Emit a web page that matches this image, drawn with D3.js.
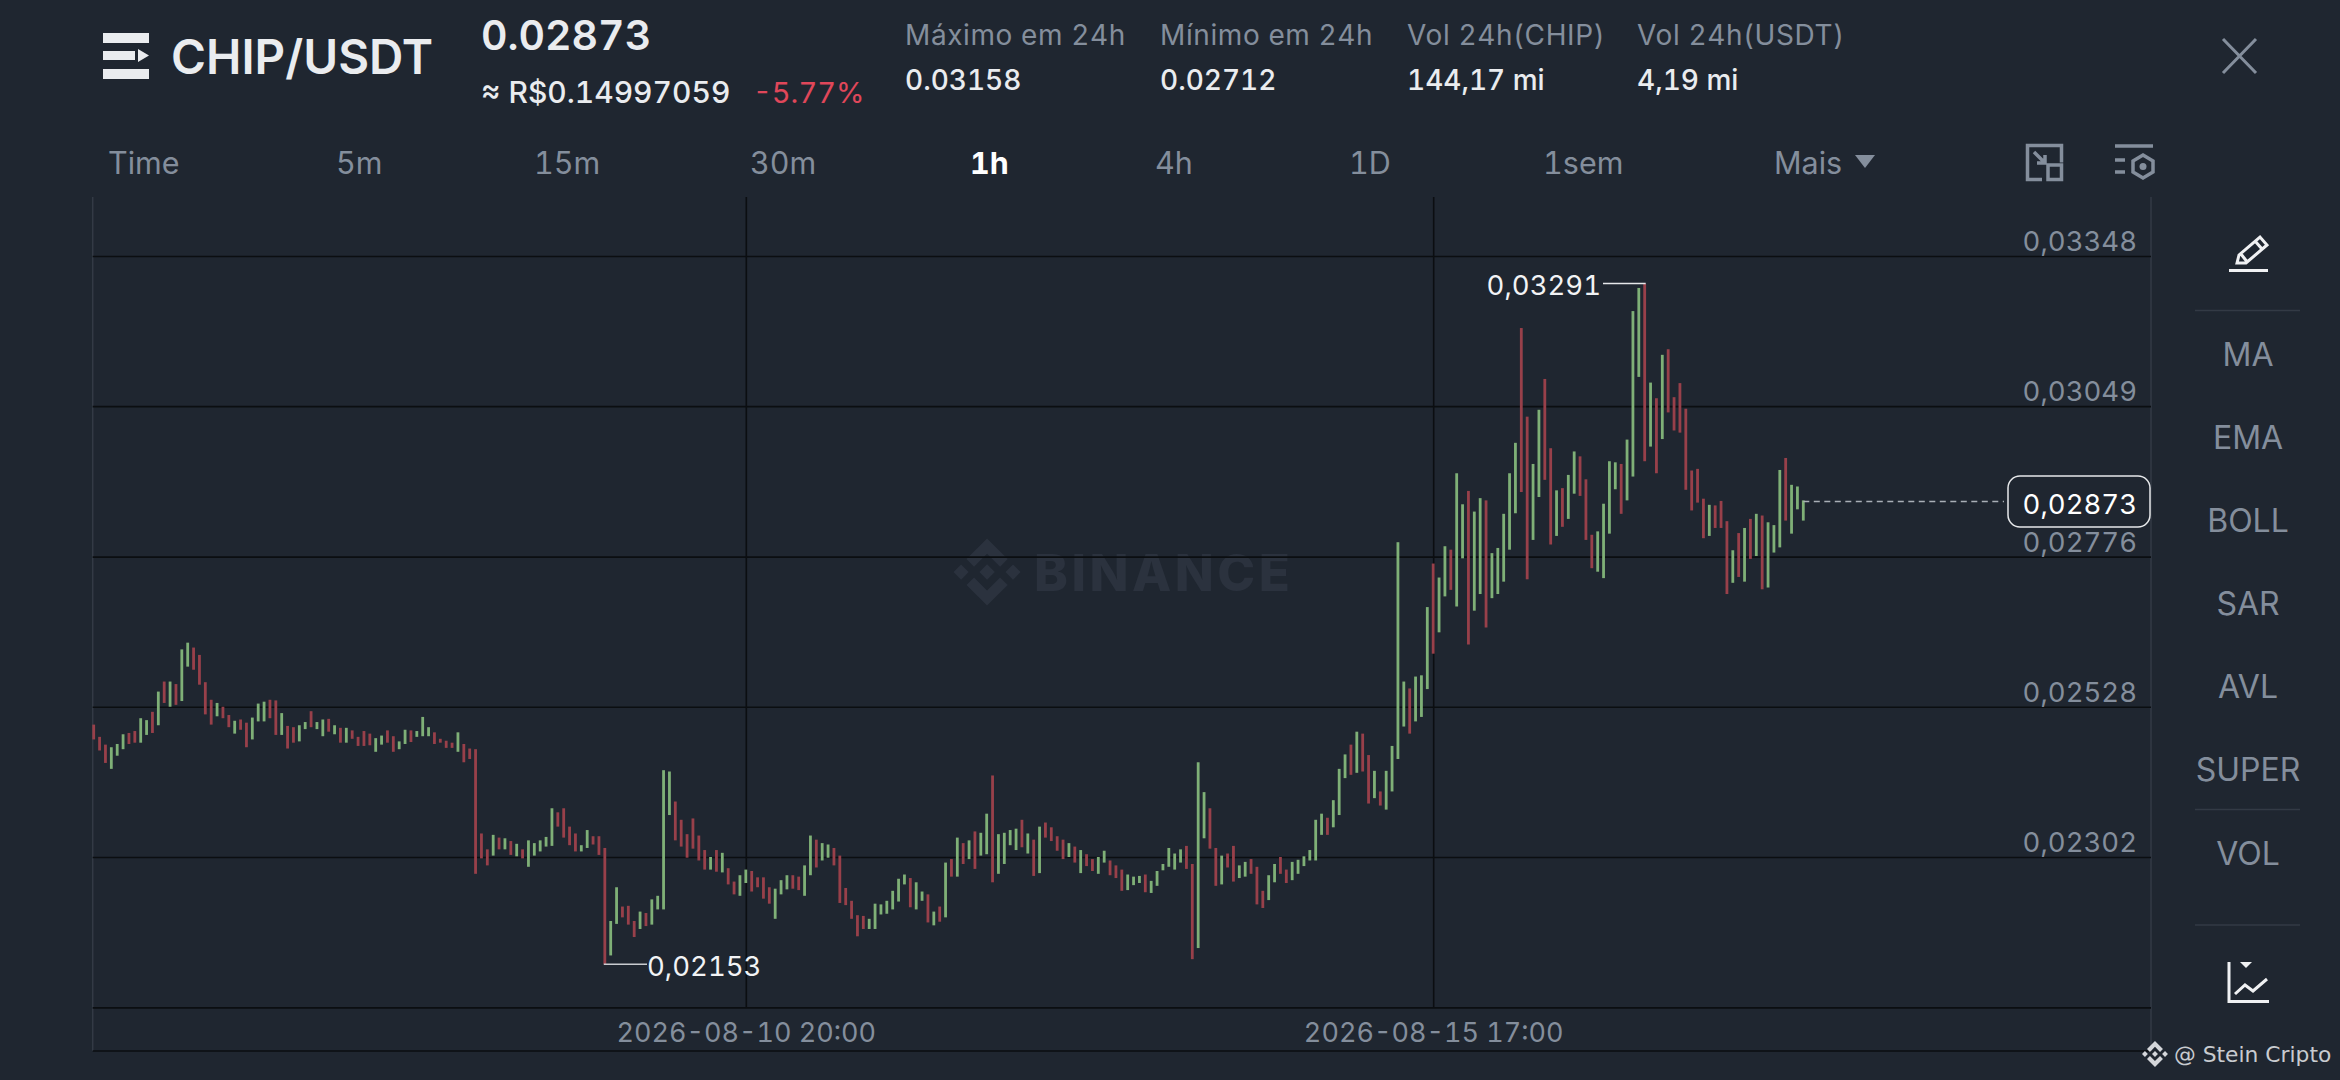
<!DOCTYPE html>
<html><head><meta charset="utf-8">
<script src="https://cdn.jsdelivr.net/npm/d3@7/dist/d3.min.js"></script>
<style>
html,body{margin:0;padding:0;background:#1f2630;overflow:hidden}
svg{display:block}
text{font-family:Inter,Lato,sans-serif;font-variant-numeric:tabular-nums}
</style></head><body>
<svg id="c" width="2340" height="1080"></svg>
<script>
const highs=[
0.02500,0.02481,0.02469,0.02465,0.02470,0.02485,0.02487,0.02490,0.02510,0.02507,
0.02520,0.02552,0.02568,0.02568,0.02564,0.02620,0.02631,0.02623,0.02611,0.02567,
0.02539,0.02534,0.02528,0.02515,0.02506,0.02508,0.02503,0.02511,0.02533,0.02536,
0.02539,0.02538,0.02518,0.02498,0.02496,0.02499,0.02504,0.02521,0.02504,0.02508,
0.02509,0.02499,0.02495,0.02495,0.02491,0.02481,0.02490,0.02486,0.02479,0.02483,
0.02491,0.02482,0.02474,0.02492,0.02491,0.02490,0.02512,0.02496,0.02488,0.02478,
0.02475,0.02472,0.02488,0.02470,0.02463,0.02462,0.02336,0.02313,0.02334,0.02330,
0.02329,0.02325,0.02321,0.02313,0.02326,0.02322,0.02326,0.02331,0.02373,0.02367,
0.02373,0.02346,0.02336,0.02319,0.02341,0.02332,0.02332,0.02315,0.02212,0.02259,
0.02232,0.02233,0.02212,0.02225,0.02223,0.02242,0.02247,0.02430,0.02428,0.02383,
0.02356,0.02335,0.02358,0.02333,0.02312,0.02302,0.02312,0.02308,0.02286,0.02267,
0.02276,0.02284,0.02282,0.02273,0.02273,0.02259,0.02257,0.02269,0.02276,0.02276,
0.02274,0.02290,0.02333,0.02327,0.02322,0.02320,0.02315,0.02304,0.02258,0.02240,
0.02220,0.02219,0.02215,0.02236,0.02235,0.02240,0.02254,0.02271,0.02277,0.02272,
0.02266,0.02253,0.02249,0.02225,0.02232,0.02294,0.02299,0.02330,0.02322,0.02326,
0.02339,0.02337,0.02365,0.02422,0.02335,0.02337,0.02341,0.02343,0.02356,0.02336,
0.02327,0.02346,0.02352,0.02345,0.02332,0.02327,0.02322,0.02317,0.02312,0.02306,
0.02299,0.02302,0.02311,0.02297,0.02290,0.02284,0.02277,0.02274,0.02275,0.02277,
0.02268,0.02282,0.02292,0.02315,0.02307,0.02313,0.02318,0.02292,0.02442,0.02397,
0.02373,0.02315,0.02304,0.02307,0.02318,0.02290,0.02295,0.02299,0.02288,0.02254,
0.02276,0.02292,0.02302,0.02284,0.02295,0.02298,0.02303,0.02312,0.02356,0.02365,
0.02359,0.02385,0.02432,0.02454,0.02469,0.02489,0.02486,0.02453,0.02429,0.02398,
0.02429,0.02467,0.02801,0.02568,0.02557,0.02576,0.02578,0.02690,0.02764,0.02740,
0.02794,0.02788,0.02924,0.02868,0.02892,0.02855,0.02879,0.02875,0.02782,0.02791,
0.02851,0.02924,0.02980,0.03201,0.03029,0.02941,0.03042,0.03101,0.02970,0.02893,
0.02897,0.02921,0.02964,0.02955,0.02913,0.02814,0.02820,0.02869,0.02946,0.02944,
0.02941,0.02986,0.03235,0.03282,0.03291,0.03094,0.03064,0.03148,0.03159,0.03066,
0.03093,0.03044,0.02929,0.02932,0.02878,0.02867,0.02866,0.02874,0.02838,0.02787,
0.02817,0.02826,0.02842,0.02851,0.02848,0.02836,0.02831,0.02930,0.02952,0.02903,
0.02900,0.02875];
const lows=[
0.02477,0.02460,0.02441,0.02432,0.02452,0.02462,0.02470,0.02472,0.02472,0.02484,
0.02487,0.02499,0.02534,0.02528,0.02531,0.02537,0.02592,0.02587,0.02563,0.02516,
0.02500,0.02513,0.02510,0.02496,0.02486,0.02492,0.02465,0.02477,0.02505,0.02505,
0.02510,0.02484,0.02484,0.02463,0.02472,0.02474,0.02493,0.02496,0.02493,0.02482,
0.02489,0.02485,0.02472,0.02472,0.02478,0.02467,0.02467,0.02468,0.02458,0.02469,
0.02472,0.02458,0.02462,0.02470,0.02473,0.02481,0.02482,0.02482,0.02470,0.02472,
0.02464,0.02464,0.02458,0.02442,0.02447,0.02278,0.02300,0.02290,0.02304,0.02313,
0.02313,0.02305,0.02303,0.02300,0.02288,0.02304,0.02310,0.02317,0.02318,0.02346,
0.02330,0.02319,0.02310,0.02310,0.02315,0.02320,0.02305,0.02153,0.02165,0.02208,
0.02217,0.02207,0.02190,0.02201,0.02205,0.02207,0.02228,0.02228,0.02363,0.02326,
0.02317,0.02301,0.02314,0.02297,0.02284,0.02284,0.02281,0.02280,0.02263,0.02249,
0.02247,0.02265,0.02253,0.02259,0.02243,0.02236,0.02215,0.02249,0.02256,0.02257,
0.02255,0.02247,0.02276,0.02287,0.02297,0.02301,0.02290,0.02237,0.02234,0.02215,
0.02191,0.02201,0.02201,0.02201,0.02221,0.02222,0.02228,0.02239,0.02263,0.02231,
0.02228,0.02240,0.02210,0.02206,0.02211,0.02217,0.02274,0.02274,0.02292,0.02299,
0.02285,0.02304,0.02306,0.02266,0.02278,0.02292,0.02319,0.02312,0.02316,0.02307,
0.02275,0.02279,0.02330,0.02325,0.02311,0.02299,0.02302,0.02294,0.02279,0.02289,
0.02282,0.02278,0.02294,0.02276,0.02272,0.02254,0.02255,0.02262,0.02265,0.02252,
0.02251,0.02261,0.02283,0.02288,0.02284,0.02294,0.02285,0.02160,0.02175,0.02329,
0.02314,0.02261,0.02263,0.02287,0.02267,0.02272,0.02274,0.02278,0.02235,0.02230,
0.02241,0.02266,0.02278,0.02265,0.02269,0.02278,0.02289,0.02297,0.02297,0.02334,
0.02334,0.02345,0.02363,0.02418,0.02423,0.02426,0.02428,0.02380,0.02388,0.02377,
0.02371,0.02398,0.02447,0.02497,0.02486,0.02505,0.02512,0.02556,0.02613,0.02648,
0.02708,0.02719,0.02691,0.02773,0.02628,0.02684,0.02712,0.02656,0.02705,0.02712,
0.02733,0.02788,0.02852,0.02890,0.02737,0.02805,0.02881,0.02912,0.02797,0.02812,
0.02828,0.02842,0.02887,0.02883,0.02805,0.02756,0.02750,0.02739,0.02816,0.02895,
0.02851,0.02875,0.02918,0.03105,0.02946,0.02973,0.02924,0.02987,0.03037,0.03003,
0.02999,0.02894,0.02857,0.02871,0.02808,0.02812,0.02826,0.02826,0.02712,0.02731,
0.02741,0.02733,0.02772,0.02777,0.02720,0.02723,0.02783,0.02792,0.02839,0.02816,
0.02859,0.02839];
const directions=(
"RRRGGGRRGG"+"RGRGRGGRRR"+"RGRRGRRGGG"+"RRGRRGGRGG"+"RGRGRRRRGG"+"RRGGRGGGRR"+
"RRGRRRRRGR"+"GRGRGGGGGR"+"RRRGGRRRGG"+"RRRGRGGGGR"+"RRRRRGRGRR"+"GGRRRRGGGR"+
"RGGRGGRRRR"+"RRGGGGGGGR"+"GGRGRGRGRG"+"RGGRGGGGRG"+"RGRRRRGRGR"+"RGGRRRGGGR"+
"GGGGGGRRGG"+"RRGRRGGRRR"+"GGRRGGGGGG"+"RGGGRGRRGR"+"GGGGRGGGRG"+"GRGGRGGRGG"+
"GGGRRGGRRG"+"RGGRRRGGGG"+"RGGGRGRGRR"+"RRRRRGRRRG"+"RGRGRGGGRG"+"GG").split("");
const priceTicks=[0.03348,0.03049,0.02776,0.02528,0.02302];
const floorPrice=0.02096;
const lastPrice=0.02873, highPrice=0.03291, lowPrice=0.02153;
const timeTicks=["2026-08-10T20:00Z","2026-08-15T17:00Z"].map(d=>new Date(d));
const firstTime=new Date("2026-08-06T05:00Z");
const hour=3600000;
const times=highs.map((_,i)=>new Date(+firstTime+i*hour));
const periods=["Time","5m","15m","30m","1h","4h","1D","1sem","Mais"];
const periodX=[108,336,534,750,970,1155,1349,1543,1774];
const statNames=["Máximo em 24h","Mínimo em 24h","Vol 24h(CHIP)","Vol 24h(USDT)"];
const statValues=["0.03158","0.02712","144,17 mi","4,19 mi"];
const statX=[905,1160,1407,1637];
const indicators=["MA","EMA","BOLL","SAR","AVL","SUPER","VOL"];
const indicatorY=[354,437,519.5,603,686,769,853];

const BG="#1f2630",UP="#7fb077",DOWN="#98404a",MUTED="#848e9c",LIGHT="#eaecef",GRID="#0b0e11",EDGE="#333a45";
const svg=d3.select("#c");
svg.append("rect").attr("width",2340).attr("height",1080).attr("fill",BG);
const fmt=d=>d.toFixed(5).replace(".",",");
const L=92.7,R=2151,TOP=197,BOT=1051;
const x=d3.scaleUtc().domain([times[0],times[times.length-1]]).range([93.7,1803.3]);
const y=d3.scaleLog().domain([priceTicks[0],priceTicks[4]]).range([256,857]);
const LOGO="m38.73 53.2 24.59-24.58 24.6 24.6 14.3-14.31L63.32 0 24.42 38.9zM0 63.31l14.3-14.31 14.31 14.31-14.31 14.3zM38.73 73.41l24.59 24.59 24.6-24.6 14.31 14.29-38.9 38.91-38.91-38.88zM98 63.31l14.3-14.31 14.31 14.3-14.31 14.32zM77.83 63.3 63.32 48.78 52.59 59.51l-1.24 1.23-2.54 2.54 14.51 14.5 14.51-14.52z";

// watermark
svg.append("path").attr("d",LOGO).attr("fill","#2b323e").attr("transform","translate(953.5,538.5) scale(0.53)");
svg.append("text").text("BINANCE").attr("x",1034).attr("y",591).attr("font-size",51).attr("font-weight",800).attr("fill","#2b323e").attr("letter-spacing",3.5);

// frame
svg.append("line").attr("x1",L).attr("x2",L).attr("y1",TOP).attr("y2",BOT).attr("stroke",EDGE).attr("stroke-width",1.5);
svg.append("line").attr("x1",R).attr("x2",R).attr("y1",TOP).attr("y2",BOT).attr("stroke",EDGE).attr("stroke-width",1.5);

// horizontal grid + price labels
const yAxis=d3.axisRight(y).tickValues([...priceTicks,floorPrice]).tickSize(R-L).tickFormat(d=>d===floorPrice?"":fmt(d));
const gy=svg.append("g").attr("transform",`translate(${L},0)`).call(yAxis);
gy.select(".domain").remove();
gy.selectAll("line").attr("stroke",GRID).attr("stroke-width",1.6);
gy.selectAll("text").attr("x",2137-L).attr("dy",-5.5).attr("text-anchor","end").attr("dominant-baseline","auto")
  .attr("font-size",27.5).attr("fill",MUTED).style("font-family","Inter,sans-serif");

// vertical grid + time labels
const xAxis=d3.axisBottom(x).tickValues(timeTicks).tickSize(1007-TOP).tickFormat(d3.utcFormat("%Y-%m-%d %H:%M"));
const gx=svg.append("g").attr("transform",`translate(0,${TOP})`).call(xAxis);
gx.select(".domain").remove();
gx.selectAll("line").attr("stroke",GRID).attr("stroke-width",1.6);
gx.selectAll("text").attr("y",1042-TOP).attr("dy",0).attr("font-size",27).attr("fill",MUTED).style("font-family","Inter,sans-serif");
svg.append("line").attr("x1",L).attr("x2",R).attr("y1",1051).attr("y2",1051).attr("stroke",GRID).attr("stroke-width",1.6);

// bars
svg.append("g").selectAll("rect").data(highs).join("rect")
  .attr("x",(d,i)=>x(times[i])-1.4).attr("width",2.8)
  .attr("y",d=>y(d)).attr("height",(d,i)=>y(lows[i])-y(d))
  .attr("fill",(d,i)=>directions[i]==="G"?UP:DOWN);

// last price
svg.append("line").attr("x1",x(times[291])).attr("x2",2004).attr("y1",y(lastPrice)).attr("y2",y(lastPrice))
  .attr("stroke","#a9afb6").attr("stroke-width",1.4).attr("stroke-dasharray","6 4.5");
svg.append("rect").attr("x",2008).attr("y",476).attr("width",142).attr("height",51).attr("rx",12)
  .attr("fill",BG).attr("stroke","#e6e8ea").attr("stroke-width",1.5);
svg.append("text").text(fmt(lastPrice)).attr("x",2137).attr("y",513.5).attr("text-anchor","end").attr("font-size",27.5).attr("fill","#fff");

// extreme callouts
const hiI=highs.indexOf(highPrice), loI=lows.indexOf(lowPrice);
svg.append("line").attr("x1",1603).attr("x2",x(times[hiI])+1).attr("y1",y(highPrice)).attr("y2",y(highPrice)).attr("stroke","#e6e8ea").attr("stroke-width",1.5);
svg.append("text").text(fmt(highPrice)).attr("x",1601).attr("y",294.5).attr("text-anchor","end").attr("font-size",27.5).attr("fill","#f2f3f5");
svg.append("line").attr("x1",x(times[loI])-1).attr("x2",647).attr("y1",y(lowPrice)).attr("y2",y(lowPrice)).attr("stroke","#c9ccd0").attr("stroke-width",1.5);
svg.append("text").text(fmt(lowPrice)).attr("x",647).attr("y",975.5).attr("font-size",27.5).attr("fill","#f2f3f5");

// header
const h=svg.append("g");
h.append("path").attr("fill","#eaecef").attr("d","M103 33h46v10h-46zM103 51h32v9h-32zM138 49l11 6.5-11 6.5zM103 69h46v10h-46z");
h.append("text").text("CHIP/USDT").attr("x",171).attr("y",74).attr("font-size",47.5).attr("font-weight",600).attr("fill","#eaecef");
h.append("text").text("0.02873").attr("x",481).attr("y",50).attr("font-size",41).attr("font-weight",600).attr("fill","#eaecef");
h.append("text").text("≈ R$0.14997059").attr("x",481).attr("y",103).attr("font-size",30).attr("font-weight",500).attr("fill","#eaecef");
h.append("text").text("-5.77%").attr("x",753).attr("y",103).attr("font-size",29).attr("fill","#e0475a");
statNames.forEach((s,i)=>{
  h.append("text").text(s).attr("x",statX[i]).attr("y",45).attr("font-size",28).attr("letter-spacing",0.6).attr("fill",MUTED);
  h.append("text").text(statValues[i]).attr("x",statX[i]).attr("y",90).attr("font-size",28).attr("font-weight",500).attr("fill",LIGHT);
});
h.append("path").attr("d","M2223 39L2256 73M2256 39L2223 73").attr("stroke",MUTED).attr("stroke-width",3).attr("fill","none");
periods.forEach((p,i)=>{
  h.append("text").text(p).attr("x",periodX[i]).attr("y",174).attr("font-size",30.5)
   .attr("font-weight",p==="1h"?700:400).attr("fill",p==="1h"?"#fff":MUTED);
});
h.append("path").attr("d","M1855 155h20l-10 13z").attr("fill",MUTED);
// layout icons
h.append("path").attr("fill","none").attr("stroke",MUTED).attr("stroke-width",3.5)
 .attr("d","M2042 179.5h-14.5v-34h34v17M2048 165h13.5v14.5h-13.5zM2034 152l11 11M2037 163h8v-8");
h.append("path").attr("fill","none").attr("stroke",MUTED).attr("stroke-width",3.5)
 .attr("d","M2115 146h38M2115 160h10M2115 172h10M2143 155l10 6v11l-10 6-10-6v-11z");
h.append("circle").attr("cx",2143).attr("cy",166.5).attr("r",3.5).attr("fill",MUTED);

// right rail
const rail=svg.append("g");
indicators.forEach((t,i)=>{
  rail.append("text").text(t).attr("x",2248).attr("y",indicatorY[i]+12).attr("text-anchor","middle").attr("font-size",32).attr("fill",MUTED);
});
[310.5,809.5,925].forEach(v=>rail.append("line").attr("x1",2195).attr("x2",2300).attr("y1",v).attr("y2",v).attr("stroke",EDGE).attr("stroke-width",1.3));
rail.append("path").attr("fill","none").attr("stroke","#f0f1f3").attr("stroke-width",3)
 .attr("d","M2229 270.5h39M2237 263l2-8 21-18 7 8-21 18zM2241 254l7 9M2255 241l7 8");
rail.append("path").attr("fill","none").attr("stroke","#f0f1f3").attr("stroke-width",3)
 .attr("d","M2229 962v39.5h40M2235 994l10-9 8 6 14-12");
rail.append("path").attr("fill","#f0f1f3").attr("d","M2240 962h12l-6 6z");

// credit
svg.append("path").attr("d",LOGO).attr("fill","#d4d6da").attr("transform","translate(2142,1041) scale(0.205)");
svg.append("text").text("@ Stein Cripto").attr("x",2174).attr("y",1062).attr("font-size",21.8).attr("fill","#c8cbcf").style("font-family","'DejaVu Sans',sans-serif");
</script>
</body></html>
